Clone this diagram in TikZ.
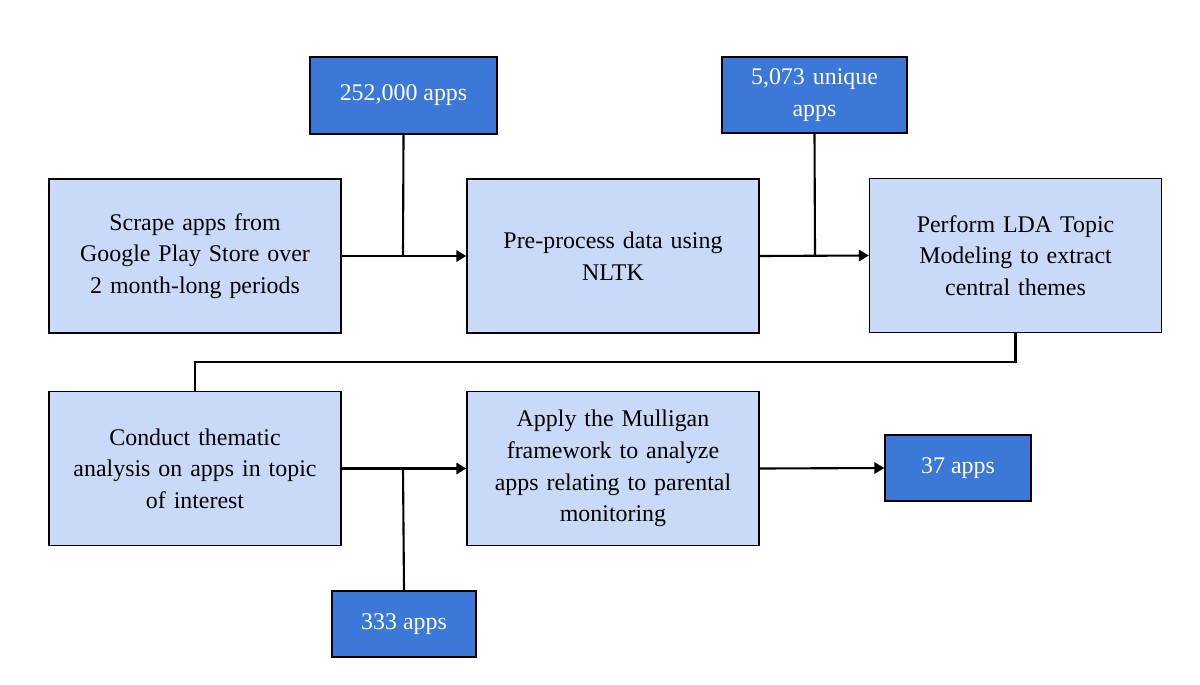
\documentclass[tikz,border=0pt]{standalone}
\usepackage{fontspec}
\setmainfont{Liberation Serif}
\usetikzlibrary{arrows.meta}
\definecolor{lb}{HTML}{C9DAF8}
\definecolor{db}{HTML}{3C78D8}
\begin{document}
\begin{tikzpicture}[x=0.025cm,y=-0.025cm,
 lbox/.style={draw=black,line width=1pt,fill=lb,align=center,inner sep=2pt,minimum width=7.3cm,minimum height=3.85cm,text width=7cm,font=\fontsize{17}{22.5}\selectfont},
 dbox/.style={draw=black,line width=1pt,fill=db,text=white,align=center,inner sep=2pt,font=\fontsize{17}{22.5}\selectfont},
 conn/.style={line width=1.5pt},
 arr/.style={line width=1.5pt,-{Triangle[length=7pt,width=8pt]}}]
\useasboundingbox (0,0) rectangle (1200,684);
\node[lbox] (A) at (195,256) {Scrape apps from\\Google Play Store over\\2 month-long periods};
\node[lbox] (B) at (613,256) {Pre-process data using\\NLTK};
\node[lbox] (C) at (1015.5,255.5) {Perform LDA Topic\\Modeling to extract\\central themes};
\node[lbox] (D) at (195,468.5) {Conduct thematic\\analysis on apps in topic\\of interest};
\node[lbox] (E) at (613,468.5) {Apply the Mulligan\\framework to analyze\\apps relating to parental\\monitoring};
\node[dbox,minimum width=4.675cm,minimum height=1.925cm] (F) at (403.5,95.5) {252,000 apps};
\node[dbox,minimum width=4.625cm,minimum height=1.9cm,text width=4.2cm] (G) at (814.5,95) {5,073 unique\\apps};
\node[dbox,minimum width=3.65cm,minimum height=1.65cm] (H) at (958,468) {37 apps};
\node[dbox,minimum width=3.6cm,minimum height=1.65cm] (I) at (404,624) {333 apps};
\coordinate (j1) at (403,256);
\coordinate (j2) at (815,256);
\coordinate (j3) at (403,468.5);
\draw[arr] (A.east) -- (B.west);
\draw[conn] (F.south) -- (j1);
\draw[arr] (B.east) -- (C.west);
\draw[conn] (G.south) -- (j2);
\draw[conn] (C.south) -- ++(0,29) -| (D.north);
\draw[arr] (D.east) -- (E.west);
\draw[conn] (I.north) -- (j3);
\draw[arr] (E.east) -- (H.west);
\end{tikzpicture}
\end{document}
